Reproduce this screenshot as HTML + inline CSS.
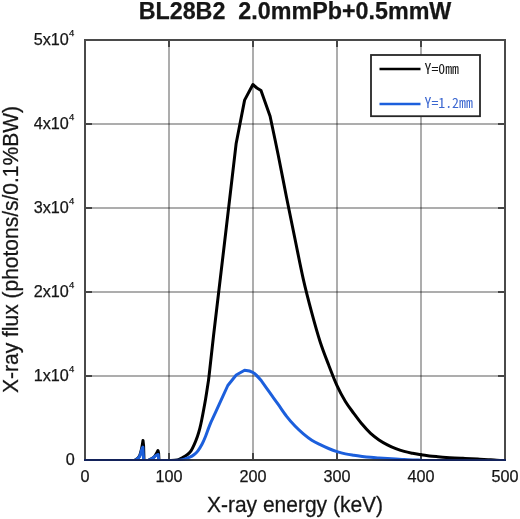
<!DOCTYPE html>
<html><head><meta charset="utf-8"><style>
html,body{margin:0;padding:0;background:#fff;}
body{width:520px;height:519px;overflow:hidden;}
svg{display:block;}
text{font-family:"Liberation Sans",Arial,sans-serif;fill:#161616;stroke:#161616;stroke-width:0.25px;}
.tick text{font-size:16.2px;}
.tick .sup{font-size:9.5px;}
.leg{font-family:"Noto Sans CJK JP","IPAGothic",monospace;font-feature-settings:'hwid';font-size:13.8px;stroke:none;}
</style></head><body>
<svg width="520" height="519" viewBox="0 0 520 519">
<defs><clipPath id="clip"><rect x="85" y="40" width="420" height="421"/></clipPath>
<linearGradient id="axg" gradientUnits="userSpaceOnUse" x1="85" y1="0" x2="505" y2="0">
<stop offset="0" stop-color="#13225a"/><stop offset="0.226" stop-color="#13225a"/><stop offset="0.26" stop-color="#3a3a3a"/>
<stop offset="0.68" stop-color="#3a3a3a"/><stop offset="0.74" stop-color="#13225a"/><stop offset="1" stop-color="#13225a"/></linearGradient></defs>
<rect width="520" height="519" fill="#fff"/>
<text x="295" y="18.8" text-anchor="middle" style="font-weight:bold;font-size:23.3px;white-space:pre" fill="#111">BL28B2  2.0mmPb+0.5mmW</text>
<g stroke="#000" stroke-opacity="0.32" stroke-width="2" fill="none"><line x1="169" y1="40" x2="169" y2="460"/><line x1="253" y1="40" x2="253" y2="460"/><line x1="337" y1="40" x2="337" y2="460"/><line x1="421" y1="40" x2="421" y2="460"/><line x1="85" y1="376" x2="505" y2="376"/><line x1="85" y1="292" x2="505" y2="292"/><line x1="85" y1="208" x2="505" y2="208"/><line x1="85" y1="124" x2="505" y2="124"/></g>
<g stroke="#454545" stroke-width="2" fill="none"><line x1="169" y1="40" x2="169" y2="47"/><line x1="169" y1="453" x2="169" y2="460"/><line x1="253" y1="40" x2="253" y2="47"/><line x1="253" y1="453" x2="253" y2="460"/><line x1="337" y1="40" x2="337" y2="47"/><line x1="337" y1="453" x2="337" y2="460"/><line x1="421" y1="40" x2="421" y2="47"/><line x1="421" y1="453" x2="421" y2="460"/><line x1="85" y1="376" x2="92" y2="376"/><line x1="498" y1="376" x2="505" y2="376"/><line x1="85" y1="292" x2="92" y2="292"/><line x1="498" y1="292" x2="505" y2="292"/><line x1="85" y1="208" x2="92" y2="208"/><line x1="498" y1="208" x2="505" y2="208"/><line x1="85" y1="124" x2="92" y2="124"/><line x1="498" y1="124" x2="505" y2="124"/></g>
<g clip-path="url(#clip)">
<path d="M85.00 460.50 C85.00 460.50 134.00 460.50 134.00 460.50 C134.00 460.50 135.33 459.92 136.00 459.50 C136.67 459.08 137.42 458.58 138.00 458.00 C138.58 457.42 139.08 456.83 139.50 456.00 C139.92 455.17 140.17 454.17 140.50 453.00 C140.83 451.83 141.20 450.33 141.50 449.00 C141.80 447.67 142.05 446.42 142.30 445.00 C142.55 443.58 143.00 440.50 143.00 440.50 C143.00 440.50 143.60 446.00 143.60 446.00 C143.60 446.00 144.00 460.50 144.00 460.50 C144.00 460.50 148.00 460.50 148.00 460.50 C148.00 460.50 149.33 459.83 150.00 459.50 C150.67 459.17 151.33 458.92 152.00 458.50 C152.67 458.08 153.42 457.58 154.00 457.00 C154.58 456.42 155.00 455.75 155.50 455.00 C156.00 454.25 156.58 453.25 157.00 452.50 C157.42 451.75 158.00 450.50 158.00 450.50 C158.00 450.50 158.60 453.00 158.60 453.00 C158.60 453.00 159.00 460.50 159.00 460.50 C159.00 460.50 171.00 460.50 171.00 460.50 C171.00 460.50 175.62 460.47 177.50 460.00 C179.38 459.53 180.68 458.58 182.30 457.70 C183.92 456.82 185.75 455.85 187.20 454.70 C188.65 453.55 189.82 452.53 191.00 450.80 C192.18 449.07 193.22 446.73 194.30 444.30 C195.38 441.87 196.57 438.90 197.50 436.20 C198.43 433.50 199.20 430.80 199.90 428.10 C200.60 425.40 201.07 423.10 201.70 420.00 C202.33 416.90 203.05 413.02 203.70 409.50 C204.35 405.98 204.98 402.57 205.60 398.90 C206.22 395.23 206.82 391.40 207.40 387.50 C207.98 383.60 208.08 384.08 209.10 375.50 C210.12 366.92 210.93 358.08 213.50 336.00 C216.07 313.92 220.73 275.03 224.50 243.00 C228.27 210.97 236.10 143.80 236.10 143.80 C236.10 143.80 244.60 100.10 244.60 100.10 C244.60 100.10 252.90 84.50 252.90 84.50 C252.90 84.50 256.90 88.00 256.90 88.00 C256.90 88.00 261.00 90.50 261.00 90.50 C261.00 90.50 270.10 116.20 270.10 116.20 C270.10 116.20 275.45 141.42 278.20 155.00 C280.95 168.58 283.80 183.70 286.60 197.70 C289.40 211.70 292.20 225.35 295.00 239.00 C297.80 252.65 300.60 267.28 303.40 279.60 C306.20 291.92 309.00 302.50 311.80 312.90 C314.60 323.30 317.40 333.35 320.20 342.00 C323.00 350.65 325.80 357.53 328.60 364.80 C331.40 372.07 334.20 379.48 337.00 385.60 C339.80 391.72 342.60 396.88 345.40 401.50 C348.20 406.12 351.00 409.50 353.80 413.30 C356.60 417.10 359.40 420.95 362.20 424.30 C365.00 427.65 367.80 430.80 370.60 433.40 C373.40 436.00 376.20 438.00 379.00 439.90 C381.80 441.80 384.60 443.35 387.40 444.80 C390.20 446.25 393.00 447.50 395.80 448.60 C398.60 449.70 401.40 450.62 404.20 451.40 C407.00 452.18 409.80 452.73 412.60 453.30 C415.40 453.87 418.20 454.37 421.00 454.80 C423.80 455.23 426.60 455.58 429.40 455.90 C432.20 456.22 435.00 456.45 437.80 456.70 C440.60 456.95 443.40 457.20 446.20 457.40 C449.00 457.60 451.80 457.75 454.60 457.90 C457.40 458.05 460.20 458.17 463.00 458.30 C465.80 458.43 468.60 458.55 471.40 458.70 C474.20 458.85 477.00 459.03 479.80 459.20 C482.60 459.37 485.40 459.53 488.20 459.70 C491.00 459.87 493.80 460.07 496.60 460.20 C499.40 460.33 505.00 460.50 505.00 460.50" fill="none" stroke="#000" stroke-width="3" stroke-linejoin="round"/>
<path d="M85.00 460.50 C85.00 460.50 134.30 460.50 134.30 460.50 C134.30 460.50 135.63 459.92 136.30 459.50 C136.97 459.08 137.72 458.58 138.30 458.00 C138.88 457.42 139.38 456.83 139.80 456.00 C140.22 455.17 140.47 454.13 140.80 453.00 C141.13 451.87 141.45 450.17 141.80 449.20 C142.15 448.23 142.90 447.20 142.90 447.20 C142.90 447.20 143.60 460.50 143.60 460.50 C143.60 460.50 148.30 460.50 148.30 460.50 C148.30 460.50 149.63 459.83 150.30 459.50 C150.97 459.17 151.63 458.92 152.30 458.50 C152.97 458.08 153.72 457.48 154.30 457.00 C154.88 456.52 155.30 455.97 155.80 455.60 C156.30 455.23 156.90 454.98 157.30 454.80 C157.70 454.62 158.20 454.50 158.20 454.50 C158.20 454.50 158.70 460.50 158.70 460.50 C158.70 460.50 174.00 460.50 174.00 460.50 C174.00 460.50 179.87 460.15 182.50 459.60 C185.13 459.05 187.90 458.00 189.80 457.20 C191.70 456.40 192.55 455.87 193.90 454.80 C195.25 453.73 196.55 452.55 197.90 450.80 C199.25 449.05 200.72 446.73 202.00 444.30 C203.28 441.87 204.50 438.90 205.60 436.20 C206.70 433.50 207.70 430.43 208.60 428.10 C209.50 425.77 211.00 422.20 211.00 422.20 C211.00 422.20 216.60 410.02 219.40 403.90 C222.20 397.78 227.80 385.50 227.80 385.50 C227.80 385.50 236.20 375.00 236.20 375.00 C236.20 375.00 244.60 370.30 244.60 370.30 C244.60 370.30 250.20 370.75 253.00 372.50 C255.80 374.25 261.40 380.80 261.40 380.80 C261.40 380.80 267.00 388.77 269.80 392.70 C272.60 396.63 275.40 400.47 278.20 404.40 C281.00 408.33 283.80 412.70 286.60 416.30 C289.40 419.90 292.20 423.08 295.00 426.00 C297.80 428.92 300.60 431.43 303.40 433.80 C306.20 436.17 309.00 438.38 311.80 440.20 C314.60 442.02 317.40 443.32 320.20 444.70 C323.00 446.08 325.80 447.35 328.60 448.50 C331.40 449.65 334.20 450.70 337.00 451.60 C339.80 452.50 342.60 453.28 345.40 453.90 C348.20 454.52 351.00 454.88 353.80 455.30 C356.60 455.72 359.40 456.07 362.20 456.40 C365.00 456.73 367.80 457.03 370.60 457.30 C373.40 457.57 376.20 457.78 379.00 458.00 C381.80 458.22 384.60 458.42 387.40 458.60 C390.20 458.78 393.00 458.95 395.80 459.10 C398.60 459.25 401.40 459.37 404.20 459.50 C407.00 459.63 409.80 459.78 412.60 459.90 C415.40 460.02 418.20 460.10 421.00 460.20 C423.80 460.30 415.40 460.45 429.40 460.50 C443.40 460.55 505.00 460.50 505.00 460.50" fill="none" stroke="#1c5fdc" stroke-width="3" stroke-linejoin="round"/>
</g>
<g fill="none" stroke="#4a4a4a" stroke-width="2"><path d="M85 460 V40 H505 V460"/></g>
<line x1="84" y1="460" x2="506" y2="460" stroke="url(#axg)" stroke-width="2"/>
<rect x="371" y="55" width="109" height="61.2" fill="#fff" stroke="#262626" stroke-width="1.8"/>
<line x1="379.5" y1="69" x2="420.5" y2="69" stroke="#000" stroke-width="2.4"/>
<line x1="379.5" y1="104" x2="420.5" y2="104" stroke="#1c5fdc" stroke-width="2.4"/>
<text x="424.5" y="73.6" class="leg" fill="#333">Y=0mm</text>
<text x="424.5" y="107.8" class="leg" style="fill:#3a66d0">Y=1.2mm</text>
<g class="tick"><text x="68.8" y="380.9" text-anchor="end">1x10</text><text x="69" y="371.7" class="sup">4</text><text x="68.8" y="296.9" text-anchor="end">2x10</text><text x="69" y="287.7" class="sup">4</text><text x="68.8" y="212.9" text-anchor="end">3x10</text><text x="69" y="203.7" class="sup">4</text><text x="68.8" y="128.9" text-anchor="end">4x10</text><text x="69" y="119.7" class="sup">4</text><text x="68.8" y="44.9" text-anchor="end">5x10</text><text x="69" y="35.7" class="sup">4</text><text x="74.8" y="464.9" text-anchor="end">0</text><text x="85" y="481.6" text-anchor="middle">0</text><text x="169" y="481.6" text-anchor="middle">100</text><text x="253" y="481.6" text-anchor="middle">200</text><text x="337" y="481.6" text-anchor="middle">300</text><text x="421" y="481.6" text-anchor="middle">400</text><text x="505" y="481.6" text-anchor="middle">500</text></g>
<text transform="translate(295,512) scale(1,1.05)" x="0" y="0" text-anchor="middle" style="font-size:21px">X-ray energy (keV)</text>
<text transform="translate(18,249.5) rotate(-90) scale(1,1.05)" x="0" y="0" text-anchor="middle" style="font-size:21px">X-ray flux (photons/s/0.1%BW)</text>
</svg>
</body></html>
